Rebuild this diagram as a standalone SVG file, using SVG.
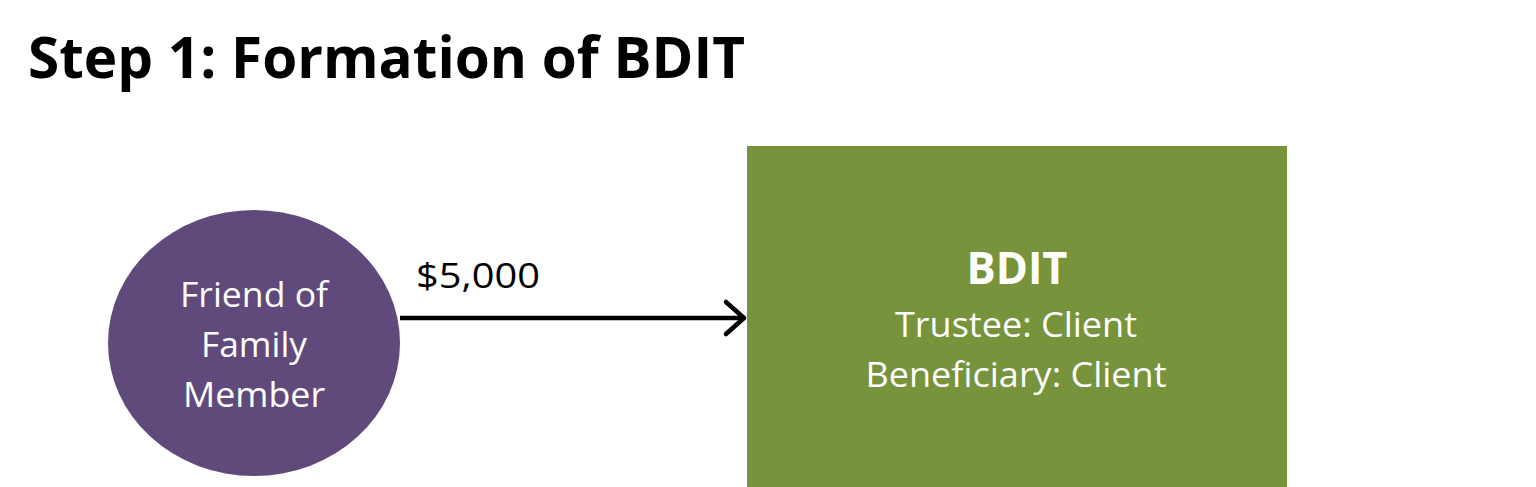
<svg xmlns="http://www.w3.org/2000/svg" width="1536" height="487" viewBox="0 0 1536 487">
<defs>
<style>
text{font-family:"Open Sans","Liberation Sans",sans-serif;}
.w{fill:#ffffff;font-size:34px;text-anchor:middle;}
.h{font-size:44px;font-weight:bold;}
.k{fill:#000000;}
</style>
<marker id="chev" markerWidth="14" markerHeight="20" refX="12" refY="10" orient="auto" markerUnits="userSpaceOnUse" viewBox="0 0 14 20" overflow="visible">
<path d="M-6,-6 L12,10 L-6,26" fill="none" stroke="#000" stroke-width="4.5" stroke-linecap="round" stroke-linejoin="round"/>
</marker>
</defs>
<rect width="1536" height="487" fill="#ffffff"/>
<text id="title" class="k" x="28" y="78" font-size="58" font-weight="bold" textLength="717" lengthAdjust="spacingAndGlyphs">Step 1: Formation of BDIT</text>
<g id="connectors">
<line x1="400" y1="318" x2="744" y2="318" stroke="#000" stroke-width="4.5" marker-end="url(#chev)"/>
<text class="k" x="416" y="288" font-size="34" textLength="124" lengthAdjust="spacingAndGlyphs">$5,000</text>
</g>
<g id="friend">
<ellipse cx="254" cy="343" rx="146" ry="133" fill="#604A7B"/>
<text class="w" x="254" y="307" textLength="148" lengthAdjust="spacingAndGlyphs">Friend of</text>
<text class="w" x="254" y="357" textLength="106" lengthAdjust="spacingAndGlyphs">Family</text>
<text class="w" x="254" y="407" textLength="142" lengthAdjust="spacingAndGlyphs">Member</text>
</g>
<g id="bdit">
<rect x="747" y="146" width="540" height="345" fill="#77933C"/>
<text class="w h" x="1017" y="284" textLength="101" lengthAdjust="spacingAndGlyphs">BDIT</text>
<text class="w" x="1016" y="337" textLength="242" lengthAdjust="spacingAndGlyphs">Trustee: Client</text>
<text class="w" x="1016" y="387" textLength="301" lengthAdjust="spacingAndGlyphs">Beneficiary: Client</text>
</g>
</svg>
